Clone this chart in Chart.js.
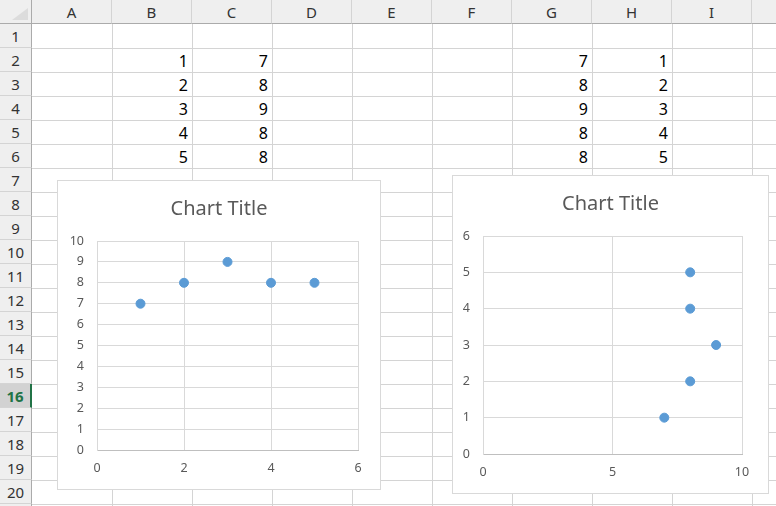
<!DOCTYPE html>
<html>
<head>
<meta charset="utf-8">
<script src="https://cdn.jsdelivr.net/npm/chart.js@4.4.0/dist/chart.umd.min.js"></script>
<style>
body { margin: 0; width: 776px; height: 506px; overflow: hidden; background: #fff; position: relative; font-family: "Noto Sans", sans-serif; }
#sheet div { position: absolute; box-sizing: border-box; }
.colhead { top: 0; height: 24px; background: #efefef; border-right: 1px solid #d4d4d4; border-bottom: 1px solid #ababab; text-align: center; line-height: 24px; font-size: 15px; color: #333; }
.rowhead { left: 0; width: 32px; height: 24px; background: #efefef; border-right: 1px solid #ababab; border-bottom: 1px solid #d4d4d4; text-align: center; line-height: 24px; font-size: 15px; color: #333; }
.rowhead.sel { background: #d2d2d2; color: #217346; font-weight: bold; border-right: 2px solid #217346; }
.vline { top: 24px; width: 1px; height: 482px; background: #d4d4d4; }
.hline { left: 32px; height: 1px; width: 744px; background: #d4d4d4; }
.cell { height: 24px; width: 80px; text-align: right; padding-right: 4px; line-height: 26px; font-size: 16px; color: #000; }
.chartbox { position: absolute; background: #fff; border: 1px solid #d9d9d9; }
</style>
</head>
<body>
<div id="sheet"></div>
<div class="chartbox" style="left:57px;top:180px;width:322px;height:308px"><canvas id="chart1"></canvas></div>
<div class="chartbox" style="left:452px;top:175px;width:315px;height:317px"><canvas id="chart2"></canvas></div>
<script>
// sheet contents
const columns = ['A', 'B', 'C', 'D', 'E', 'F', 'G', 'H', 'I', 'J'];
const colB = [1, 2, 3, 4, 5];
const colC = [7, 8, 9, 8, 8];
const colG = [7, 8, 9, 8, 8];
const colH = [1, 2, 3, 4, 5];

// axis ticks
const chart1X = { min: 0, max: 6, step: 2 };
const chart1Y = { min: 0, max: 10, step: 1 };
const chart2X = { min: 0, max: 10, step: 5 };
const chart2Y = { min: 0, max: 6, step: 1 };

const chartTitle = 'Chart Title';
const dotColor = '#5b9bd5';

const sheet = document.getElementById('sheet');
const colW = 80, rowH = 24, headW = 32;

const addDiv = (cls, style, text) => {
    const d = document.createElement('div');
    d.className = cls;
    Object.assign(d.style, style);
    if (text !== undefined) d.textContent = text;
    sheet.appendChild(d);
    return d;
};

// gridlines
for (let c = 1; c <= columns.length; c++) {
    addDiv('vline', { left: (headW + c * colW) + 'px' });
}
for (let r = 2; r <= 21; r++) {
    addDiv('hline', { top: (r * rowH) + 'px' });
}

// column headers
const corner = addDiv('colhead', { left: '0px', width: headW + 'px', borderRight: '1px solid #ababab' });
const tri = document.createElement('div');
Object.assign(tri.style, { position: 'absolute', right: '3px', bottom: '3px', width: '0', height: '0', borderLeft: '16px solid transparent', borderBottom: '12px solid #dcdcdc' });
corner.appendChild(tri);
columns.forEach((name, i) => {
    addDiv('colhead', { left: (headW + i * colW) + 'px', width: colW + 'px' }, name);
});

// row headers
for (let r = 1; r <= 21; r++) {
    const d = addDiv('rowhead', { top: (r * rowH) + 'px' }, String(r));
    if (r === 16) d.classList.add('sel');
}

// cell values
const putColumn = (colIndex, values) => {
    values.forEach((v, i) => {
        addDiv('cell', { left: (headW + colIndex * colW) + 'px', top: ((i + 2) * rowH) + 'px' }, String(v));
    });
};
putColumn(1, colB);
putColumn(2, colC);
putColumn(6, colG);
putColumn(7, colH);

const toPoints = (xs, ys) => xs.map((x, i) => ({ x: x, y: ys[i] }));

const makeOptions = (xr, yr, yWidth, rightPad) => ({
    responsive: true,
    maintainAspectRatio: false,
    animation: false,
    layout: { padding: 0 },
    plugins: {
        legend: { display: false },
        tooltip: { enabled: false },
        title: {
            display: true,
            text: chartTitle,
            color: '#595959',
            font: { family: 'Noto Sans', size: 20, weight: 'normal', lineHeight: 1.2 },
            padding: { top: 16, bottom: 20 }
        }
    },
    scales: {
        x: {
            type: 'linear',
            min: xr.min, max: xr.max,
            ticks: { stepSize: xr.step, color: '#595959', padding: 11, font: { family: 'Noto Sans', size: 12.5 } },
            grid: { color: '#d9d9d9', drawTicks: false },
            border: { color: '#bfbfbf' },
            afterFit: (s) => { s.height = 39; }
        },
        y: {
            type: 'linear',
            min: yr.min, max: yr.max,
            ticks: { stepSize: yr.step, color: '#595959', padding: 13, font: { family: 'Noto Sans', size: 12.5 } },
            grid: { color: '#d9d9d9', drawTicks: false },
            border: { color: '#d9d9d9' },
            afterFit: (s) => { s.width = yWidth; }
        },
        // empty right-hand axis, only keeps the plot clear of the right edge
        // so the title still centres on the whole chart box
        spacer: {
            type: 'linear',
            position: 'right',
            min: yr.min, max: yr.max,
            ticks: { display: false },
            grid: { display: false, drawTicks: false },
            border: { display: false },
            afterFit: (s) => { s.width = rightPad; }
        }
    }
});

new Chart(document.getElementById('chart1'), {
    type: 'scatter',
    data: {
        datasets: [{
            data: toPoints(colB, colC),
            backgroundColor: dotColor,
            borderColor: dotColor,
            pointRadius: 4.5
        }]
    },
    options: makeOptions(chart1X, chart1Y, 39, 22)
});

new Chart(document.getElementById('chart2'), {
    type: 'scatter',
    data: {
        datasets: [{
            data: toPoints(colG, colH),
            backgroundColor: dotColor,
            borderColor: dotColor,
            pointRadius: 4.5
        }]
    },
    options: makeOptions(chart2X, chart2Y, 30, 26)
});
</script>
</body>
</html>
